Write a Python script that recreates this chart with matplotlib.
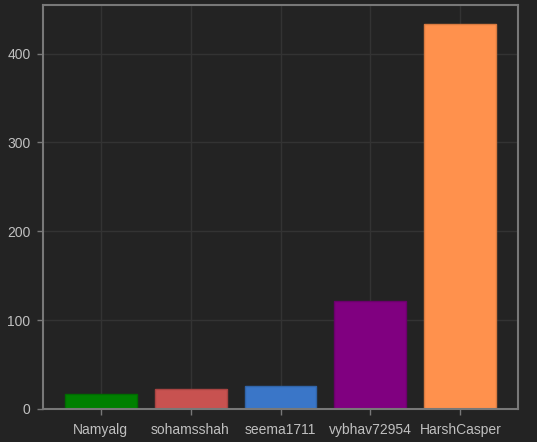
import matplotlib
matplotlib.use("Agg")
import matplotlib.pyplot as plt

# contributors and their counts
names = ["Namyalg", "sohamsshah", "seema1711", "vybhav72954", "HarshCasper"]
counts = [17, 22, 26, 122, 433]
colors = ["#008000", "#c85250", "#3a76c8", "#800080", "#ff914d"]
edges = ["#006a00", "#a84442", "#3064a8", "#6a006a", "#d87a40"]

plt.rcParams["font.family"] = ["Liberation Sans", "DejaVu Sans"]

fig = plt.figure(figsize=(5.37, 4.42), dpi=100, facecolor="#232323")
ax = fig.add_axes([43/537, 1-409/442, (518-43)/537, (409-5)/442])
ax.set_facecolor("#232323")

ax.bar(names, counts, color=colors, edgecolor=edges, linewidth=1, zorder=2)

ax.grid(True, color="#333333", linewidth=1, zorder=0)
for s in ax.spines.values():
    s.set_color("#787878")
    s.set_linewidth(1.5)
ax.tick_params(colors="#787878", labelcolor="#c0c0c0", labelsize=10, width=1, length=4)
ax.tick_params(axis="x", pad=6)
ax.tick_params(axis="y", pad=5)

fig.savefig("out.png", dpi=100, facecolor=fig.get_facecolor())
